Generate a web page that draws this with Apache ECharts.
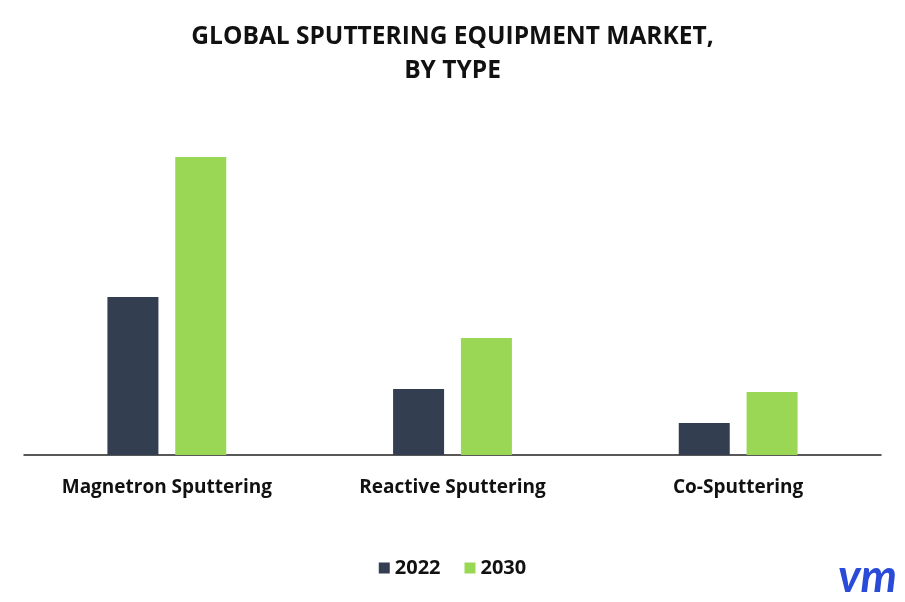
<!DOCTYPE html>
<html><head><meta charset="utf-8">
<script src="https://cdn.jsdelivr.net/npm/echarts@6/dist/echarts.min.js"></script>
<style>html,body{margin:0;padding:0;background:#fff}#c{width:905px;height:602px}</style>
</head><body><div id="c"></div>
<script>
const categories = ["Magnetron Sputtering", "Reactive Sputtering", "Co-Sputtering"];
const s2022 = [158, 66, 32];
const s2030 = [298, 117, 63];
const chart = echarts.init(document.getElementById('c'));
chart.setOption({
  animation: false,
  title: {text: "GLOBAL SPUTTERING EQUIPMENT MARKET,\nBY TYPE", left: 'center', top: 15,
    textStyle: {fontFamily: 'Open Sans', fontWeight: 'bold', fontSize: 24.5, lineHeight: 34, color: '#111'}},
  grid: {left: 24, right: 24, top: 155, bottom: 147},
  legend: {bottom: 19, left: 'center', itemWidth: 11, itemHeight: 11, itemGap: 24, icon: 'rect',
    textStyle: {fontFamily: 'Open Sans', fontWeight: 'bold', fontSize: 20, color: '#111'}},
  xAxis: {type: 'category', data: categories,
    axisLine: {lineStyle: {color: '#222', width: 1.5}}, axisTick: {show: false},
    axisLabel: {margin: 23, fontFamily: 'Open Sans', fontWeight: 'bold', fontSize: 19, color: '#111'}},
  yAxis: {type: 'value', min: 0, max: 300, show: false, splitLine: {show: false}},
  series: [
    {name: '2022', type: 'bar', data: s2022, barWidth: 51, barGap: '33%', itemStyle: {color: '#333f50'}},
    {name: '2030', type: 'bar', data: s2030, barWidth: 51, itemStyle: {color: '#9ad755'}}
  ],
  graphic: [{type: 'text', right: 8, bottom: 2, style: {text: 'vm', fontSize: 46, fontWeight: 'bold', fontStyle: 'italic', fill: '#2a4bd8', fontFamily: 'Lato'}}]
});
</script></body></html>
